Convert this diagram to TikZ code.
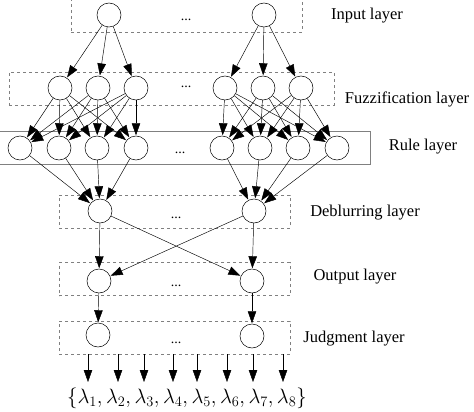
\documentclass[tikz,border=0pt]{standalone}
\usepackage{fontspec}
\setmainfont{Liberation Serif}
\usetikzlibrary{arrows.meta}

\tikzset{
	neuron/.style={draw, circle, line width=0.5pt, minimum size=24pt, inner sep=0pt},
	layerbox/.style={draw=gray, dashed, line width=0.6pt, inner sep=0pt, minimum height=33pt},
	rulebox/.style={draw=gray, line width=0.6pt, inner sep=0pt, minimum height=33pt},
	layername/.style={font=\fontsize{16.5}{18}\selectfont},
	gap/.style={anchor=base, font=\fontsize{14}{15}\selectfont, inner sep=0pt},
	link/.style={-{Triangle[length=12pt,width=8.5pt]}, line width=0.45pt, shorten >=0.5pt}
}

\begin{document}
\begin{tikzpicture}[x=1pt,y=1pt,yscale=-1,xscale=1]
		\useasboundingbox (0,0) rectangle (474,412);
		
		% layer boxes
		\node [layerbox, minimum width=231pt, minimum height=38pt] (inbox) at (186.5,13) {};
		\node [layerbox, minimum width=325pt] (fzbox) at (171.5,88.5) {};
		\node [rulebox, minimum width=372pt] (rlbox) at (184.5,147.5) {};
		\node [layerbox, minimum width=231pt] (dbbox) at (174.5,211.5) {};
		\node [layerbox, minimum width=231pt] (opbox) at (174.5,279) {};
		\node [layerbox, minimum width=231pt] (jdbox) at (174.5,337.5) {};
		
		% neurons
		\node [neuron] (i1) at (109,15) {};
		\node [neuron] (i2) at (264,15) {};
		
		\node [neuron] (f1) at (60,88) {};
		\node [neuron] (f2) at (98,88) {};
		\node [neuron] (f3) at (136,88) {};
		\node [neuron] (f4) at (225,88) {};
		\node [neuron] (f5) at (263,88) {};
		\node [neuron] (f6) at (301,88) {};
		
		\node [neuron] (r1) at (20,148) {};
		\node [neuron] (r2) at (59,148) {};
		\node [neuron] (r3) at (97,148) {};
		\node [neuron] (r4) at (136,148) {};
		\node [neuron] (r5) at (222,148) {};
		\node [neuron] (r6) at (260,148) {};
		\node [neuron] (r7) at (298,148) {};
		\node [neuron] (r8) at (337,148) {};
		
		\node [neuron] (d1) at (100,211) {};
		\node [neuron] (d2) at (254,211) {};
		
		\node [neuron] (o1) at (99,281) {};
		\node [neuron] (o2) at (252,281) {};
		
		\node [neuron] (j1) at (98,335) {};
		\node [neuron] (j2) at (252,336) {};
		
		% dots
		\node [gap] (gi) at (186,21) {...};
		\node [gap] (gf) at (186,88) {...};
		\node [gap] (gr) at (180,153) {...};
		\node [gap] (gd) at (176,218) {...};
		\node [gap] (go) at (176,286) {...};
		\node [gap] (gj) at (176,343) {...};
		
		% layer names
		\node [layername] (ni) at (367,16) {Input layer};
		\node [layername] (nf) at (407,99) {Fuzzification layer};
		\node [layername] (nr) at (423,147) {Rule layer};
		\node [layername] (nd) at (365,213) {Deblurring layer};
		\node [layername] (no) at (355,277) {Output layer};
		\node [layername] (nj) at (354,339) {Judgment layer};
		
		% connections
		\foreach \f in {f1,f2,f3} \draw [link] (i1) -- (\f);
		\foreach \f in {f4,f5,f6} \draw [link] (i2) -- (\f);
		\foreach \f in {f1,f2,f3} \foreach \r in {r1,r2,r3,r4} \draw [link] (\f) -- (\r);
		\foreach \f in {f4,f5,f6} \foreach \r in {r5,r6,r7,r8} \draw [link] (\f) -- (\r);
		\foreach \r in {r1,r2,r3,r4} \draw [link] (\r) -- (d1);
		\foreach \r in {r5,r6,r7,r8} \draw [link] (\r) -- (d2);
		\draw [link] (d1) -- (o1);
		\draw [link] (d1) -- (o2);
		\draw [link] (d2) -- (o1);
		\draw [link] (d2) -- (o2);
		\draw [link] (o1) -- (j1);
		\draw [link] (o2) -- (j2);
		
		% outputs
		\coordinate (l1) at (88,382);
		\coordinate (l2) at (118,382);
		\coordinate (l3) at (144,382);
		\coordinate (l4) at (173,382);
		\coordinate (l5) at (197,382);
		\coordinate (l6) at (227,382);
		\coordinate (l7) at (253,382);
		\coordinate (l8) at (283,382);
		\foreach \l in {l1,l2,l3,l4,l5,l6,l7,l8} \draw [link, shorten >=0pt] (\l |- jdbox.south) -- (\l);
		
		\node [font=\fontsize{21}{23}\selectfont] (lam) at (187,398) {$\{\lambda_1,\lambda_2,\lambda_3,\lambda_4,\lambda_5,\lambda_6,\lambda_7,\lambda_8\}$};
		
		\end{tikzpicture}
\end{document}
